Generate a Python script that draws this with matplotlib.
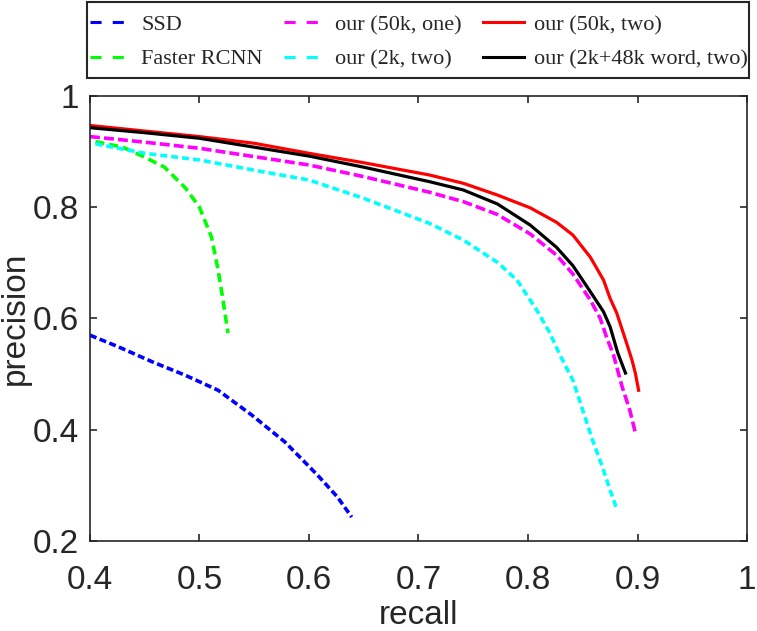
import matplotlib
matplotlib.use("Agg")
import matplotlib.pyplot as plt
from matplotlib.lines import Line2D
from matplotlib.patches import Rectangle

plt.rcParams['lines.scale_dashes'] = False

# ---- data ----
ssd_recall = [0.400, 0.426, 0.457, 0.487, 0.517, 0.548, 0.578, 0.608, 0.626, 0.639]
ssd_prec   = [0.570, 0.549, 0.522, 0.498, 0.471, 0.426, 0.378, 0.318, 0.279, 0.243]

frcnn_recall = [0.405, 0.430, 0.450, 0.468, 0.487, 0.500, 0.511, 0.517, 0.521, 0.524, 0.526]
frcnn_prec   = [0.918, 0.908, 0.890, 0.872, 0.835, 0.800, 0.746, 0.687, 0.639, 0.600, 0.574]

one50_recall = [0.400, 0.450, 0.500, 0.560, 0.600, 0.650, 0.710, 0.741, 0.772, 0.802,
                0.826, 0.841, 0.857, 0.866, 0.872, 0.878, 0.886, 0.893, 0.898]
one50_prec   = [0.927, 0.917, 0.906, 0.888, 0.876, 0.855, 0.827, 0.810, 0.787, 0.752,
                0.714, 0.680, 0.633, 0.600, 0.565, 0.535, 0.477, 0.435, 0.395]

two2_recall = [0.405, 0.450, 0.500, 0.560, 0.600, 0.650, 0.710, 0.741, 0.772, 0.790,
               0.808, 0.820, 0.829, 0.841, 0.850, 0.859, 0.868, 0.875, 0.881]
two2_prec   = [0.914, 0.897, 0.885, 0.863, 0.849, 0.816, 0.771, 0.741, 0.701, 0.669,
               0.615, 0.574, 0.535, 0.489, 0.435, 0.381, 0.333, 0.291, 0.258]

two50_recall = [0.400, 0.450, 0.500, 0.550, 0.600, 0.650, 0.710, 0.741, 0.772, 0.802,
                0.826, 0.841, 0.857, 0.869, 0.875, 0.881, 0.890, 0.895, 0.898, 0.901]
two50_prec   = [0.947, 0.937, 0.927, 0.915, 0.897, 0.880, 0.858, 0.843, 0.822, 0.799,
                0.773, 0.750, 0.710, 0.669, 0.636, 0.610, 0.556, 0.525, 0.502, 0.471]

word_recall = [0.400, 0.450, 0.500, 0.550, 0.600, 0.650, 0.710, 0.741, 0.772, 0.802,
               0.826, 0.841, 0.857, 0.869, 0.875, 0.882, 0.889]
word_prec   = [0.943, 0.934, 0.924, 0.908, 0.892, 0.872, 0.846, 0.831, 0.806, 0.768,
               0.728, 0.695, 0.648, 0.612, 0.585, 0.538, 0.502]

labels = ['SSD', 'Faster RCNN', 'our (50k, one)', 'our (2k, two)',
          'our (50k, two)', 'our (2k+48k word, two)']
x_ticks = [0.4, 0.5, 0.6, 0.7, 0.8, 0.9, 1.0]
x_tick_labels = ['0.4', '0.5', '0.6', '0.7', '0.8', '0.9', '1']
y_ticks = [0.2, 0.4, 0.6, 0.8, 1.0]
y_tick_labels = ['0.2', '0.4', '0.6', '0.8', '1']

# ---- figure ----
W, H = 757, 631
fig = plt.figure(figsize=(W/100, H/100), dpi=100)
ax = fig.add_axes([90/W, 1-541/H, (747-90)/W, (541-96)/H])

axcol = '#262626'
ax.plot(ssd_recall, ssd_prec, color=(0, 0, 1), lw=2.6, dashes=(5, 2.5))
ax.plot(frcnn_recall, frcnn_prec, color=(0, 1, 0), lw=2.6, dashes=(6.5, 3.6))
ax.plot(one50_recall, one50_prec, color=(1, 0, 1), lw=2.6, dashes=(7.2, 2.9))
ax.plot(two2_recall, two2_prec, color=(0, 1, 1), lw=2.6, dashes=(5, 2.9))
ax.plot(two50_recall, two50_prec, color=(1, 0, 0), lw=2.3)
ax.plot(word_recall, word_prec, color=(0, 0, 0), lw=2.3)

ax.set_xlim(0.4, 1.0)
ax.set_ylim(0.2, 1.0)
ax.set_xticks(x_ticks)
ax.set_xticklabels(x_tick_labels)
ax.set_yticks(y_ticks)
ax.set_yticklabels(y_tick_labels)

for lab in ax.get_xticklabels() + ax.get_yticklabels():
    lab.set_fontfamily('Liberation Sans')
    lab.set_fontsize(24)
    lab.set_color(axcol)
ax.tick_params(direction='in', length=5, width=1.2, color=axcol,
               top=True, right=True)
ax.tick_params(axis='x', pad=17)
ax.tick_params(axis='y', pad=8)
for s in ax.spines.values():
    s.set_color(axcol)
    s.set_linewidth(1.2)

ax.set_xlabel('recall', fontfamily='Liberation Sans', fontsize=24, color=axcol, labelpad=3)
ax.set_ylabel('precision', fontfamily='Liberation Sans', fontsize=24, color=axcol, labelpad=1)

# legend frame drawn separately (tight horizontal padding, larger vertical)
fig.patches.append(Rectangle((87/W, 1-78/H), (749-87)/W, 76/H, transform=fig.transFigure,
                             facecolor='white', edgecolor=axcol, linewidth=1.5, zorder=0))

colors = [(0, 0, 1), (0, 1, 0), (1, 0, 1), (0, 1, 1), (1, 0, 0), (0, 0, 0)]
styles = ['dash', 'dash', 'dash', 'dash', 'solid', 'solid']
handles = []
for c, st in zip(colors, styles):
    if st == 'dash':
        handles.append(Line2D([], [], color=c, lw=2.2, dashes=(8, 8)))
    else:
        handles.append(Line2D([], [], color=c, lw=2.2))

leg = fig.legend(handles, labels, ncol=3, loc='upper left',
                 bbox_to_anchor=(89/W, 1-14/H, (749-89)/W, 0.001),
                 mode='expand', prop=dict(family='Liberation Serif', size=16),
                 frameon=False, handlelength=1.85, handletextpad=0.45,
                 labelspacing=0.62, borderpad=0.05, borderaxespad=0,
                 columnspacing=1.0)
for t in leg.get_texts():
    t.set_color(axcol)

fig.savefig('out.png', dpi=100)
